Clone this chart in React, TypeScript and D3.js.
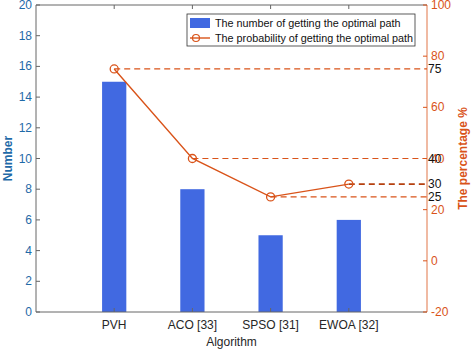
import React, { useEffect, useRef } from 'react';
import * as d3 from 'd3';

const algorithms = ['PVH', 'ACO [33]', 'SPSO [31]', 'EWOA [32]'];
const optimalCounts = [15, 8, 5, 6];
const optimalProbability = [75, 40, 25, 30];
const leftTicks = [0, 2, 4, 6, 8, 10, 12, 14, 16, 18, 20];
const rightTicks = [-20, 0, 20, 40, 60, 80, 100];

const App = () => {
  const svgRef = useRef<SVGSVGElement>(null);

  useEffect(() => {
    const svg = d3.select(svgRef.current);
    svg.selectAll('*').remove();

    const width = 474;
    const height = 350;
    const margin = { top: 5, right: 47, bottom: 38, left: 36 };
    const font = 'Liberation Sans, Arial, sans-serif';
    const barColor = '#4169e1';
    const lineColor = '#d95319';
    const leftColor = '#1f6aa8';
    const frameColor = '#666';

    svg.attr('width', width).attr('height', height).attr('viewBox', `0 0 ${width} ${height}`);

    const x0 = margin.left;
    const x1 = width - margin.right;
    const y0 = height - margin.bottom;
    const y1 = margin.top;

    const x = d3.scaleLinear().domain([0, algorithms.length + 1]).range([x0, x1]);
    const yL = d3.scaleLinear().domain([0, 20]).range([y0, y1]);
    const yR = d3.scaleLinear().domain([-20, 100]).range([y0, y1]);
    const barW = (x(1) - x(0)) * 0.31;

    const g = svg.append('g').style('font-family', font);

    // bars
    g.selectAll('rect.bar')
      .data(optimalCounts)
      .enter()
      .append('rect')
      .attr('x', (d, i) => x(i + 1) - barW / 2)
      .attr('y', d => yL(d))
      .attr('width', barW)
      .attr('height', d => y0 - yL(d))
      .attr('fill', barColor);

    // frame: top and bottom
    g.append('line').attr('x1', x0).attr('x2', x1).attr('y1', y1).attr('y2', y1).attr('stroke', frameColor);
    g.append('line').attr('x1', x0).attr('x2', x1).attr('y1', y0).attr('y2', y0).attr('stroke', frameColor);
    algorithms.forEach((a, i) => {
      g.append('line').attr('x1', x(i + 1)).attr('x2', x(i + 1)).attr('y1', y1).attr('y2', y1 + 4).attr('stroke', frameColor);
      g.append('line').attr('x1', x(i + 1)).attr('x2', x(i + 1)).attr('y1', y0).attr('y2', y0 - 4).attr('stroke', frameColor);
      g.append('text')
        .attr('x', x(i + 1))
        .attr('y', y0 + 17)
        .attr('text-anchor', 'middle')
        .attr('font-size', 12)
        .attr('fill', '#262626')
        .text(a);
    });

    // left axis
    g.append('line').attr('x1', x0).attr('x2', x0).attr('y1', y0).attr('y2', y1).attr('stroke', frameColor);
    leftTicks.forEach(t => {
      g.append('line').attr('x1', x0).attr('x2', x0 + 4).attr('y1', yL(t)).attr('y2', yL(t)).attr('stroke', frameColor);
      g.append('text')
        .attr('x', x0 - 4)
        .attr('y', yL(t) + 4)
        .attr('text-anchor', 'end')
        .attr('font-size', 12)
        .attr('fill', leftColor)
        .text(t);
    });

    // right axis
    g.append('line').attr('x1', x1).attr('x2', x1).attr('y1', y0).attr('y2', y1).attr('stroke', lineColor).attr('stroke-opacity', 0.8);
    rightTicks.forEach(t => {
      g.append('line').attr('x1', x1).attr('x2', x1 - 4).attr('y1', yR(t)).attr('y2', yR(t)).attr('stroke', lineColor);
      g.append('text')
        .attr('x', x1 + 4)
        .attr('y', yR(t) + 4)
        .attr('font-size', 12)
        .attr('fill', lineColor)
        .text(t);
    });

    // dashed guides to right axis
    optimalProbability.forEach((p, i) => {
      g.append('line')
        .attr('x1', x(i + 1))
        .attr('x2', x1)
        .attr('y1', yR(p))
        .attr('y2', yR(p))
        .attr('stroke', p === 30 ? '#b5400f' : lineColor)
        .attr('stroke-width', p === 30 ? 1.6 : 1.2)
        .attr('stroke-dasharray', '6,4');
      g.append('text')
        .attr('x', x1 + 1)
        .attr('y', yR(p) + 4)
        .attr('font-size', 12)
        .attr('fill', '#111')
        .text(p);
    });

    // probability line
    const line = d3.line<number>()
      .x((d, i) => x(i + 1))
      .y(d => yR(d));
    g.append('path')
      .datum(optimalProbability)
      .attr('d', line)
      .attr('fill', 'none')
      .attr('stroke', lineColor)
      .attr('stroke-width', 1.4);
    g.selectAll('circle.pt')
      .data(optimalProbability)
      .enter()
      .append('circle')
      .attr('cx', (d, i) => x(i + 1))
      .attr('cy', d => yR(d))
      .attr('r', 4)
      .attr('fill', 'none')
      .attr('stroke', lineColor)
      .attr('stroke-width', 1.3);

    // axis titles
    g.append('text')
      .attr('transform', `translate(12, ${(y0 + y1) / 2}) rotate(-90)`)
      .attr('text-anchor', 'middle')
      .attr('font-size', 12)
      .attr('font-weight', 'bold')
      .attr('fill', leftColor)
      .text('Number');
    g.append('text')
      .attr('transform', `translate(467, ${(y0 + y1) / 2}) rotate(-90)`)
      .attr('text-anchor', 'middle')
      .attr('font-size', 12)
      .attr('font-weight', 'bold')
      .attr('fill', lineColor)
      .text('The percentage %');
    g.append('text')
      .attr('x', (x0 + x1) / 2)
      .attr('y', height - 4)
      .attr('text-anchor', 'middle')
      .attr('font-size', 12)
      .attr('fill', '#262626')
      .text('Algorithm');

    // legend
    const lg = g.append('g').attr('transform', 'translate(187, 14)');
    lg.append('rect').attr('width', 228).attr('height', 32).attr('fill', '#fff').attr('stroke', '#333').attr('stroke-width', 0.8);
    lg.append('rect').attr('x', 3).attr('y', 4).attr('width', 20).attr('height', 10).attr('fill', barColor);
    lg.append('line').attr('x1', 3).attr('x2', 23).attr('y1', 24).attr('y2', 24).attr('stroke', lineColor).attr('stroke-width', 1.4);
    lg.append('circle').attr('cx', 9).attr('cy', 24).attr('r', 3.5).attr('fill', 'none').attr('stroke', lineColor).attr('stroke-width', 1.2);
    lg.append('text').attr('x', 28).attr('y', 13).attr('font-size', 10.8).attr('fill', '#111').text('The number of getting the optimal path');
    lg.append('text').attr('x', 28).attr('y', 28).attr('font-size', 10.8).attr('fill', '#111').text('The probability of getting the optimal path');
  }, []);

  return <svg ref={svgRef} style={{ position: 'absolute', left: 0, top: 0 }} />;
};

export default App;
